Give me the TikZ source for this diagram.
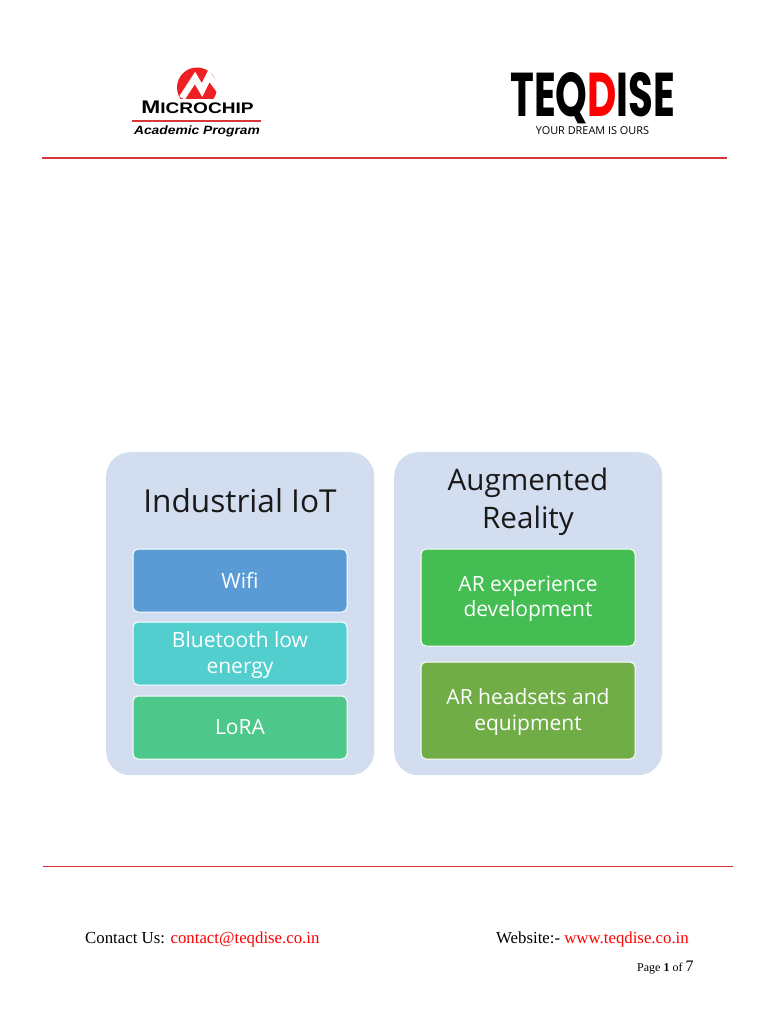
\documentclass[tikz,border=0pt]{standalone}
\usepackage{fontspec}
\setmainfont{Liberation Serif}
\newfontfamily\panelfont{Open Sans}
\newfontfamily\logofont{Liberation Sans}
\newfontfamily\teqfont{Poppins}
\usepackage{xcolor}
\definecolor{panelblue}{HTML}{D2DEEF}
\definecolor{wifiblue}{HTML}{5B9BD5}
\definecolor{bleteal}{HTML}{53CECE}
\definecolor{loragreen}{HTML}{4EC78B}
\definecolor{argreen}{HTML}{44BD52}
\definecolor{headgreen}{HTML}{70AD47}
\definecolor{mainred}{HTML}{FF0000}
\definecolor{rulered}{HTML}{D9363A}
\definecolor{chipred}{HTML}{EE2024}
\tikzset{
  panel/.style={fill=panelblue,rounded corners=24pt,minimum width=268pt,minimum height=323pt,anchor=north west,inner sep=0pt},
  title/.style={font=\panelfont\fontsize{29.6}{38}\selectfont,align=center,text=black!90},
  item/.style={draw=white,line width=1pt,rounded corners=5pt,minimum width=214pt,anchor=north west,text=white,
    font=\panelfont\fontsize{21}{25.5}\selectfont,align=center,inner sep=0pt},
  twoline/.style={text=white,font=\panelfont\fontsize{21}{25.5}\selectfont,align=center,inner sep=0pt,yshift=-1.5pt},
  foot/.style={font=\fontsize{16.8}{18}\selectfont,anchor=base west,inner sep=0pt}
}
\begin{document}
\begin{tikzpicture}[x=1pt,y=-1pt]
\useasboundingbox (0,0) rectangle (768,1024);
\fill[white] (0,0) rectangle (768,1024);
% head and foot rules
\draw[rulered,line width=1.2pt] (42,158)--(727,158);
\draw[rulered,line width=0.8pt] (43,866)--(733,866);
% microchip logo
\begin{scope}
\clip (170,60) rectangle (225,99);
\fill[chipred] (197,87.5) circle (20);
\draw[white,line width=6.5pt,miter limit=10] (182,98)--(195,78)--(202,90)--(209,76)--(223,95);
\end{scope}
\node[font=\logofont\bfseries\fontsize{21.5}{21}\selectfont,inner sep=0pt] (mchip) at (197.5,107.5) {\scalebox{1.06}[0.85]{M\textsc{\fontsize{18}{17}\selectfont ICROCHIP}}};
\draw[rulered,line width=2pt] (132,121)--(261,121);
\node[font=\logofont\bfseries\itshape\fontsize{12}{12}\selectfont,inner sep=0pt] (acad) at (197,131.5) {\scalebox{1.15}[1]{Academic Program}};
% teqdise logo
\node[font=\teqfont\bfseries,inner sep=0pt,anchor=base west] (teq) at (510,117) {\resizebox{165pt}{44pt}{TEQ\textcolor{red}{D}ISE}};
\node[font=\panelfont\fontsize{10.9}{12}\selectfont,inner sep=0pt] (slogan) at (592.5,131) {YOUR DREAM IS OURS};
% panels
\node[panel] (iot) at (106,452) {};
\node[panel] (ar) at (394,452) {};
\node[title,font=\panelfont\fontsize{31.6}{38}\selectfont] (iottitle) at (240,501) {Industrial IoT};
\node[title] (artitle) at (528,502) {Augmented\\Reality};
\node[item,fill=wifiblue,minimum height=63pt] (wifi) at (132.5,548.5) {Wifi};
\node[item,fill=bleteal,minimum height=63pt,label={[twoline]center:Bluetooth low\\energy}] (ble) at (132.5,621.5) {};
\node[item,fill=loragreen,minimum height=63pt] (lora) at (132.5,695.5) {LoRA};
\node[item,fill=argreen,minimum height=97pt,label={[twoline]center:AR experience\\development}] (arexp) at (420.5,548.5) {};
\node[item,fill=headgreen,minimum height=97pt,label={[twoline]center:AR headsets and\\equipment}] (arhead) at (420.5,661.5) {};
% footer
\node[foot] (contact) at (85,943) {Contact Us: \textcolor{mainred}{contact@teqdise.co.in}};
\node[foot] (web) at (496,943) {Website:- \textcolor{mainred}{www.teqdise.co.in}};
\node[foot,font=\fontsize{12}{14}\selectfont] (page) at (637,971) {Page \textbf{1} of {\fontsize{16}{14}\selectfont 7}};
\end{tikzpicture}
\end{document}
